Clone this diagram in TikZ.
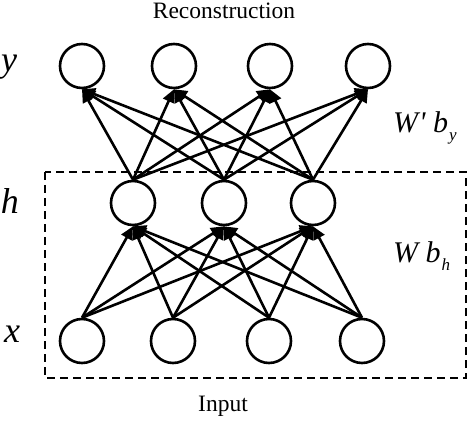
\documentclass[tikz,border=0pt]{standalone}
\usepackage{fontspec}
\setmainfont{Liberation Serif}
\usetikzlibrary{arrows.meta}
\newcommand{\lowsub}[1]{\raisebox{-8pt}{\fontsize{17}{17}\selectfont #1}}
\begin{document}
\begin{tikzpicture}[x=1pt,y=-1pt,
  neuron/.style={circle,draw,line width=2.6pt,minimum size=44pt,inner sep=0pt,fill=white},
  conn/.style={line width=2.6pt,-{Triangle[length=13pt,width=12pt]}},
  varlabel/.style={font=\fontsize{36}{36}\selectfont\itshape,anchor=base,inner sep=0pt},
  wlabel/.style={font=\fontsize{30}{30}\selectfont\itshape,anchor=base west,inner sep=0pt},
  caption/.style={font=\fontsize{23.5}{23.5}\selectfont,anchor=base,inner sep=0pt}]
\useasboundingbox (0,0) rectangle (468,422);
% dashed box
\draw[line width=2.5pt,dash pattern=on 8pt off 5pt] (45,172) rectangle (466,378);
% nodes
\node[neuron] (y1) at (82,66) {};
\node[neuron] (y2) at (174,66) {};
\node[neuron] (y3) at (270,66) {};
\node[neuron] (y4) at (368,66) {};
\node[neuron] (h1) at (133,203) {};
\node[neuron] (h2) at (224,203) {};
\node[neuron] (h3) at (313,203) {};
\node[neuron] (x1) at (82,341) {};
\node[neuron] (x2) at (173,341) {};
\node[neuron] (x3) at (269,341) {};
\node[neuron] (x4) at (362,341) {};
% connections
\foreach \i in {1,2,3,4}{
  \foreach \j in {1,2,3}{
    \draw[conn] (x\i.north) -- (h\j.south);
    \draw[conn] (h\j.north) -- (y\i.south);
  }
}
% labels
\node[caption] (rec) at (224,19) {Reconstruction};
\node[caption] (inp) at (223,411) {Input};
\node[varlabel] (ly) at (9,72) {y};
\node[varlabel] (lh) at (10,213) {h};
\node[varlabel] (lx) at (12,342) {x};
\node[wlabel] (lw1) at (393,133) {W\kern1pt\textquotesingle\ b\kern1pt\lowsub{y}};
\node[wlabel] (lw2) at (393,262) {W\ b\kern1pt\lowsub{h}};
\end{tikzpicture}
\end{document}
